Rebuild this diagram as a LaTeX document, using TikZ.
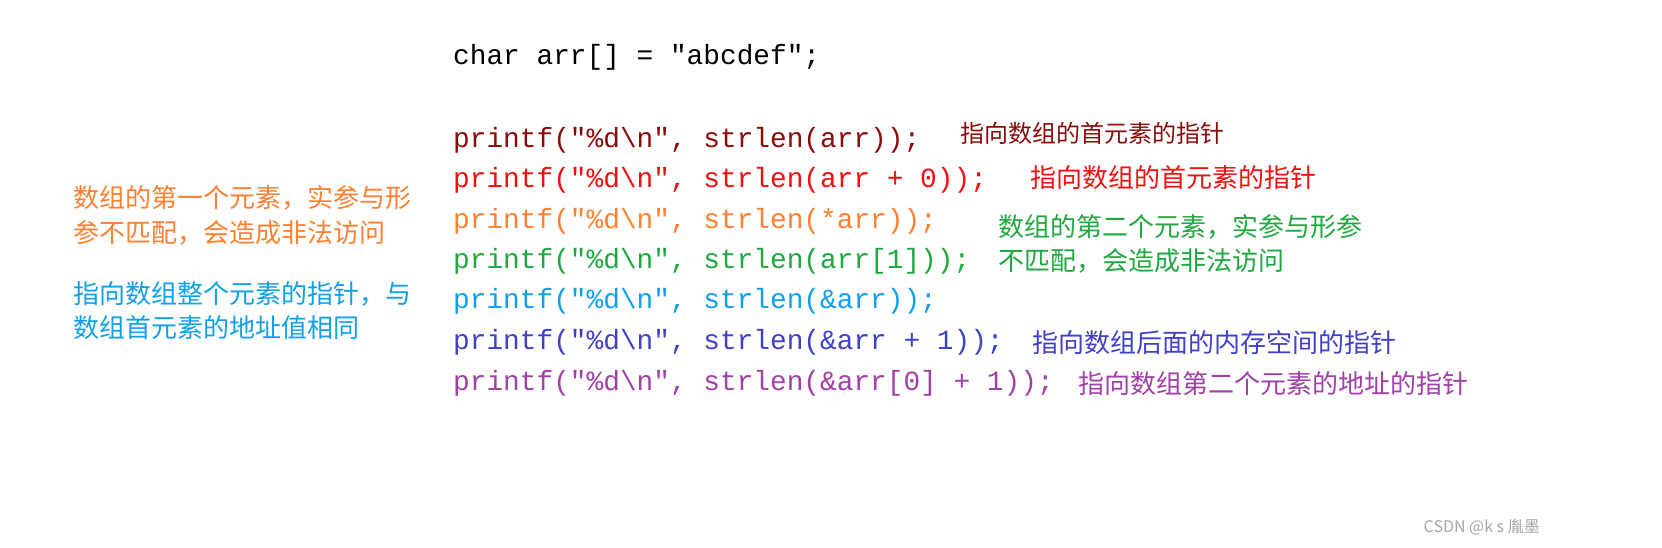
\documentclass[tikz,border=0pt]{standalone}
\usepackage{fontspec}
\setmonofont{Liberation Mono}
\newfontfamily\cjk{Noto Sans CJK SC}
\definecolor{cdred}{HTML}{8B0A0A}
\definecolor{cred}{HTML}{F01010}
\definecolor{corange}{HTML}{FF8030}
\definecolor{cgreen}{HTML}{20A840}
\definecolor{clblue}{HTML}{10A0E8}
\definecolor{cblue}{HTML}{4040C8}
\definecolor{cpurple}{HTML}{A040A8}
\tikzset{
  code/.style={anchor=west,inner sep=0pt,font=\fontsize{27.8}{30}\ttfamily},
  note/.style={anchor=west,inner sep=0pt,font=\fontsize{26}{30}\cjk},
  notes/.style={anchor=west,inner sep=0pt,font=\fontsize{24}{30}\cjk},
}
\begin{document}
\begin{tikzpicture}[x=1pt,y=1pt]
\useasboundingbox[fill=white] (0,0) rectangle (1662,-547);
\node[code] (c0) at (453,-57) {char arr[] = "abcdef";};
\node[code,text=cdred] (c1) at (453,-140) {printf("\%d\textbackslash n", strlen(arr));};
\node[code,text=cred] (c2) at (453,-180) {printf("\%d\textbackslash n", strlen(arr + 0));};
\node[code,text=corange] (c3) at (453,-221) {printf("\%d\textbackslash n", strlen(*arr));};
\node[code,text=cgreen] (c4) at (453,-261) {printf("\%d\textbackslash n", strlen(arr[1]));};
\node[code,text=clblue] (c5) at (453,-301) {printf("\%d\textbackslash n", strlen(\&arr));};
\node[code,text=cblue] (c6) at (453,-342) {printf("\%d\textbackslash n", strlen(\&arr + 1));};
\node[code,text=cpurple] (c7) at (453,-383) {printf("\%d\textbackslash n", strlen(\&arr[0] + 1));};
\node[notes,text=cdred] (n1) at (960,-133) {指向数组的首元素的指针};
\node[note,text=cred] (n2) at (1030,-178) {指向数组的首元素的指针};
\node[note,text=cgreen] (n4a) at (998,-227) {数组的第二个元素，实参与形参};
\node[note,text=cgreen] (n4b) at (998,-261) {不匹配，会造成非法访问};
\node[note,text=cblue] (n6) at (1032,-343) {指向数组后面的内存空间的指针};
\node[note,text=cpurple] (n7) at (1078,-384) {指向数组第二个元素的地址的指针};
\node[note,text=corange] (n3a) at (73,-198) {数组的第一个元素，实参与形};
\node[note,text=corange] (n3b) at (73,-233) {参不匹配，会造成非法访问};
\node[note,text=clblue] (n5a) at (73,-294) {指向数组整个元素的指针，与};
\node[note,text=clblue] (n5b) at (73,-328) {数组首元素的地址值相同};
\node[anchor=east,inner sep=0pt,text=gray!70,font=\fontsize{16}{18}\cjk] (wm) at (1540,-527) {CSDN @k s 胤墨};
\end{tikzpicture}
\end{document}
